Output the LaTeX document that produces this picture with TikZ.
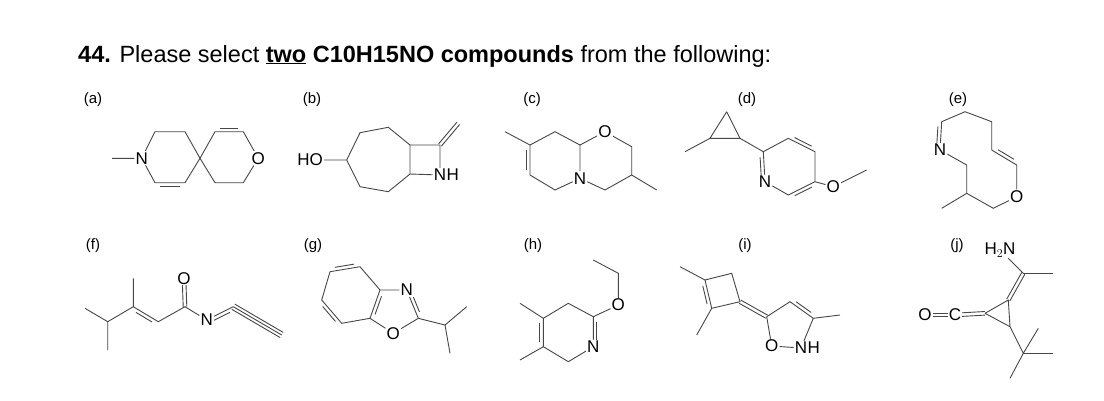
\documentclass[tikz,border=0pt]{standalone}
\usepackage{fontspec}
\setmainfont{Liberation Sans}
\usetikzlibrary{calc}
\pgfdeclarelayer{bg}\pgfdeclarelayer{back}\pgfsetlayers{back,bg,main}
\tikzset{bond/.style={draw=black!72,line width=0.9pt},
 atom/.style={font=\fontsize{17}{17}\selectfont,inner sep=1pt,fill=white},
 lbl/.style={font=\fontsize{15}{15}\selectfont,inner sep=0pt}}
\newcommand\ib[3]{\draw[bond] ($($(#1)!0.18!(#2)$)!#3!90:(#2)$) -- ($($(#2)!0.18!(#1)$)!#3!-90:(#1)$);}
\newcommand\dd[2]{\draw[bond] ($(#1)!1.8pt!90:(#2)$) -- ($(#2)!1.8pt!-90:(#1)$);
 \draw[bond] ($(#1)!1.8pt!-90:(#2)$) -- ($(#2)!1.8pt!90:(#1)$);}
\newcommand\tr[2]{\draw[bond] (#1) -- (#2);
 \draw[bond] ($(#1)!3pt!90:(#2)$) -- ($(#2)!3pt!-90:(#1)$);
 \draw[bond] ($(#1)!3pt!-90:(#2)$) -- ($(#2)!3pt!90:(#1)$);}
\begin{document}
\begin{tikzpicture}[x=1pt,y=-1pt]
\begin{pgfonlayer}{back}
\fill[white] (0,0) rectangle (1104,400);
\end{pgfonlayer}
\useasboundingbox (0,0) rectangle (1104,400);
\node[anchor=base west,font=\fontsize{23.5}{24}\selectfont,inner sep=0] (title) at (78,62)
 {\textbf{44.} Please select \textbf{\underline{two}} \textbf{C10H15NO compounds} from the following:};
\node[lbl] (la) at (93,100) {(a)}; \node[lbl] (lb) at (312,100) {(b)};
\node[lbl] (lc) at (532,100) {(c)}; \node[lbl] (ld) at (747,100) {(d)};
\node[lbl] (le) at (958,100) {(e)}; \node[lbl] (lf) at (93,246) {(f)};
\node[lbl] (lg) at (313,246) {(g)}; \node[lbl] (lh) at (533,246) {(h)};
\node[lbl] (li) at (745,246) {(i)}; \node[lbl] (lj) at (957,246) {(j)};
% atoms
\node[atom] (aN) at (141.7,158.3) {N}; \node[atom] (aO) at (258.3,158.3) {O};
\node[atom] (bO) at (310,160) {HO}; \node[atom] (bN) at (440,175) {N};
\node[atom,anchor=west,inner sep=0pt] (bH) at ([xshift=-1pt]bN.east) {H};
\node[atom] (cN) at (580,178.3) {N}; \node[atom] (cO) at (605,131.7) {O};
\node[atom] (dN) at (765,181.7) {N}; \node[atom] (dO) at (833.3,186.7) {O};
\node[atom] (eN) at (940,150) {N}; \node[atom] (eO) at (1016.7,196.7) {O};
\node[atom] (fO) at (184,278.3) {O}; \node[atom] (fN) at (206.7,320) {N};
\node[atom] (gN) at (406.7,290) {N}; \node[atom] (gO) at (393.3,333.3) {O};
\node[atom] (hN) at (593.3,346.7) {N}; \node[atom] (hO) at (618.3,305) {O};
\node[atom] (iN) at (801,348) {N}; \node[atom,anchor=west,inner sep=0pt] (iH) at ([xshift=-1pt]iN.east) {H};
\node[atom] (iO) at (771.7,346) {O};
\node[atom] (jO) at (925,315) {O}; \node[atom] (jC) at (955,315) {C};
\node[atom] (jN) at (1000,250) {H$_2$N};
% coordinates
\coordinate (am) at (112,158.3); \coordinate (a1) at (155,131.7); \coordinate (a2) at (185,131.7);
\coordinate (S) at (200,158.3); \coordinate (a4) at (185,182.7); \coordinate (a5) at (155,182.7);
\coordinate (b1) at (215,131.7); \coordinate (b2) at (243.3,131.7); \coordinate (b4) at (243.3,182.7); \coordinate (b5) at (215,182.7);
\coordinate (c1) at (346.7,160); \coordinate (c2) at (360,132.7); \coordinate (c3) at (388.3,127.3);
\coordinate (c4) at (410,145); \coordinate (c5) at (410,174); \coordinate (c6) at (388.3,191.7);
\coordinate (c7) at (360,186.7); \coordinate (c8) at (440,145); \coordinate (cm) at (458.3,123.3);
\coordinate (d0) at (505,131.7); \coordinate (d1) at (530,145); \coordinate (d2) at (555,131.7);
\coordinate (d3) at (580,145); \coordinate (d5) at (555,190); \coordinate (d6) at (530,175);
\coordinate (e2) at (631.7,146.7); \coordinate (e3) at (631.7,175); \coordinate (e4) at (605,190); \coordinate (em) at (656.7,190);
\coordinate (p1) at (726.7,111.7); \coordinate (p2) at (710,138.3); \coordinate (p3) at (740,138.3); \coordinate (pm) at (685,151.7);
\coordinate (q1) at (763.3,151.7); \coordinate (q2) at (788.3,138.3); \coordinate (q3) at (815,151.7);
\coordinate (q4) at (815,181.7); \coordinate (q5) at (788.3,195); \coordinate (qm) at (866.7,170);
\coordinate (f1) at (941.7,121.7); \coordinate (f2) at (965,111.7); \coordinate (f3) at (991.7,121.7);
\coordinate (f4) at (991.7,150); \coordinate (f5) at (1016.7,165); \coordinate (f7) at (993.3,208.3);
\coordinate (f8) at (966.7,193.3); \coordinate (f9) at (966.7,165); \coordinate (fm) at (941.7,208.3);
\coordinate (g1) at (107.7,321.7); \coordinate (gm1) at (85,308.3); \coordinate (gm2) at (107.7,350);
\coordinate (g3) at (133.3,306.7); \coordinate (gm3) at (133.3,278.3); \coordinate (g2) at (158.3,321.7);
\coordinate (g4) at (185,306.7); \coordinate (g6) at (233.3,306.7); \coordinate (g7) at (281.7,335);
\coordinate (h1) at (360,266.7); \coordinate (h2) at (380,290); \coordinate (h3) at (370,318.3);
\coordinate (h4) at (341.7,323.3); \coordinate (h5) at (321.7,300); \coordinate (h6) at (330,271.7);
\coordinate (gC) at (418.3,318.3); \coordinate (i1) at (445,325); \coordinate (i2) at (466.7,306.7); \coordinate (i3) at (450,353.3);
\coordinate (k1) at (543.3,318.3); \coordinate (k2) at (568.3,303.3); \coordinate (k3) at (593.3,316.7);
\coordinate (k5) at (568.3,361.7); \coordinate (k6) at (543.3,346.7); \coordinate (km1) at (520,303.3); \coordinate (km2) at (520,360);
\coordinate (k7) at (618.3,273.3); \coordinate (k8) at (593.3,260);
\coordinate (r1) at (705,280); \coordinate (r2) at (731.7,273.3); \coordinate (r3) at (740,301.7); \coordinate (r4) at (711.7,308.3);
\coordinate (rm1) at (680,266.7); \coordinate (rm2) at (696.7,335);
\coordinate (s5) at (766.7,316.7); \coordinate (s4) at (790,301.7); \coordinate (s3) at (813.3,318.3); \coordinate (sm) at (840,315);
\coordinate (t1) at (985,313.3); \coordinate (t2) at (1008.3,300); \coordinate (t3) at (1010,326.7);
\coordinate (t4) at (1023.3,273.3); \coordinate (t5) at (1053.3,273.3); \coordinate (t6) at (1023.3,353.3);
\coordinate (u1) at (1038.3,328.3); \coordinate (u2) at (1053.3,353.3); \coordinate (u3) at (1010,378.3);
\begin{pgfonlayer}{bg}
% (a)
\draw[bond] (am) -- (aN) -- (a1) -- (a2) -- (S) -- (a4) -- (a5) -- (aN);
\draw[bond] (S) -- (b1) -- (b2) -- (aO) -- (b4) -- (b5) -- (S);
\ib{a4}{a5}{3.5pt} \ib{b1}{b2}{3.5pt}
% (b)
\draw[bond] (bO) -- (c1) -- (c2) -- (c3) -- (c4) -- (c5) -- (c6) -- (c7) -- (c1);
\draw[bond] (c4) -- (c8) -- (bN) -- (c5);
\dd{c8}{cm}
% (c)
\draw[bond] (d0) -- (d1) -- (d2) -- (d3) -- (cN) -- (d5) -- (d6) -- (d1);
\draw[bond] (d3) -- (cO) -- (e2) -- (e3) -- (e4) -- (cN); \draw[bond] (e3) -- (em);
\ib{d6}{d1}{3.5pt}
% (d)
\draw[bond] (p1) -- (p2) -- (p3) -- (p1); \draw[bond] (pm) -- (p2); \draw[bond] (p3) -- (q1);
\draw[bond] (q1) -- (q2) -- (q3) -- (q4) -- (q5) -- (dN) -- (q1);
\draw[bond] (q4) -- (dO) -- (qm);
\ib{dN}{q1}{3.5pt} \ib{q2}{q3}{3.5pt} \ib{q4}{q5}{3.5pt}
% (e)
\draw[bond] (eN) -- (f1) -- (f2) -- (f3) -- (f4) -- (f5) -- (eO) -- (f7) -- (f8) -- (f9) -- (eN);
\draw[bond] (f8) -- (fm);
\ib{eN}{f1}{3.5pt} \ib{f4}{f5}{3.5pt}
% (f)
\draw[bond] (gm1) -- (g1) -- (gm2); \draw[bond] (g1) -- (g3) -- (gm3);
\draw[bond] (g3) -- (g2) -- (g4) -- (fN); \dd{g4}{fO}
\draw[bond] (fN) -- (g6); \ib{fN}{g6}{-3.5pt} \ib{g3}{g2}{-3.5pt}
\tr{g6}{g7}
% (g)
\draw[bond] (h6) -- (h1) -- (h2) -- (h3) -- (h4) -- (h5) -- (h6);
\ib{h6}{h1}{3.5pt} \ib{h2}{h3}{3.5pt} \ib{h4}{h5}{3.5pt}
\draw[bond] (h2) -- (gN) -- (gC) -- (gO) -- (h3); \ib{gN}{gC}{3.5pt}
\draw[bond] (gC) -- (i1) -- (i2); \draw[bond] (i1) -- (i3);
% (h)
\draw[bond] (k1) -- (k2) -- (k3) -- (hN) -- (k5) -- (k6) -- (k1);
\ib{k6}{k1}{3.5pt} \ib{k3}{hN}{3.5pt}
\draw[bond] (km1) -- (k1); \draw[bond] (km2) -- (k6);
\draw[bond] (k3) -- (hO) -- (k7) -- (k8);
% (i)
\draw[bond] (r1) -- (r2) -- (r3) -- (r4) -- (r1); \ib{r4}{r1}{3.5pt}
\draw[bond] (rm1) -- (r1); \draw[bond] (rm2) -- (r4); \dd{r3}{s5}
\draw[bond] (s5) -- (s4) -- (s3) -- (iN) -- (iO) -- (s5); \ib{s4}{s3}{3.5pt}
\draw[bond] (s3) -- (sm);
% (j)
\dd{jO}{jC} \dd{jC}{t1}
\draw[bond] (t1) -- (t2) -- (t3) -- (t1); \dd{t2}{t4}
\draw[bond] (t4) -- (t5); \draw[bond] (t4) -- (jN);
\draw[bond] (t3) -- (t6) -- (u1); \draw[bond] (t6) -- (u2); \draw[bond] (t6) -- (u3);
\end{pgfonlayer}
\end{tikzpicture}
\end{document}
